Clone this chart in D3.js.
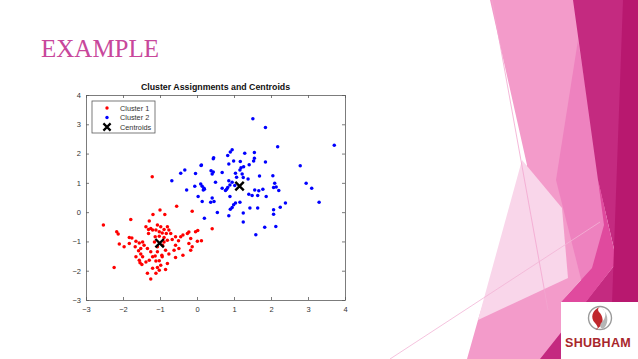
<!DOCTYPE html>
<html>
<head>
<meta charset="utf-8">
<script src="https://cdn.jsdelivr.net/npm/d3@7/dist/d3.min.js"></script>
<style>
  html, body { margin: 0; padding: 0; background: #fff; }
  svg { display: block; }
</style>
</head>
<body>
<svg id="slide" width="638" height="359"></svg>
<script>
// values
const cluster1Points = [
  [-1.21, 1.21], [-0.55, 0.20], [-2.53, -0.44], [-1.79, -0.25], [-1.19, -0.08], [-1.00, 0.07],
  [-0.87, -0.08], [-1.29, -0.30], [-0.13, 0.03], [0.41, -0.57], [-2.17, -0.67], [-2.13, -0.75],
  [-1.83, -0.87], [-1.76, -0.88], [-2.10, -1.09], [-1.97, -1.18], [-1.83, -1.07], [-1.65, -0.99],
  [-1.56, -1.05], [-1.47, -1.02], [-1.67, -1.18], [-1.58, -1.32], [-1.52, -1.24], [-1.38, -0.50],
  [-1.31, -0.59], [-1.25, -0.56], [-1.31, -0.73], [-1.20, -0.61], [-1.07, -0.44], [-0.98, -0.50],
  [-0.89, -0.59], [-0.80, -0.50], [-0.76, -0.61], [-0.83, -0.73], [-0.71, -0.73], [-0.94, -0.71],
  [-1.02, -0.67], [-1.11, -0.61], [-1.13, -0.84], [-1.02, -0.82], [-0.89, -0.87], [-0.80, -0.96],
  [-0.67, -0.93], [-0.58, -0.84], [-0.50, -0.98], [-0.44, -0.84], [-0.38, -0.78], [-0.26, -0.73],
  [-0.17, -0.90], [-0.04, -0.67], [0.01, -0.99], [0.12, -0.98], [-0.22, -1.07], [-0.13, -1.18],
  [-0.17, -1.30], [-0.58, -1.13], [-0.62, -1.30], [-0.49, -1.24], [-0.38, -1.47], [-0.58, -1.55],
  [-0.85, -1.30], [-0.76, -1.43], [-0.95, -1.47], [-1.07, -1.35], [-1.13, -1.50], [-1.25, -1.35],
  [-1.34, -1.24], [-1.43, -1.13], [-1.65, -1.52], [-1.56, -1.64], [-1.47, -1.52], [-1.52, -1.43],
  [-1.38, -1.70], [-1.29, -1.64], [-1.11, -1.67], [-1.02, -1.66], [-1.20, -1.52], [-1.54, -1.73],
  [-1.49, -1.79], [-2.24, -1.89], [-0.98, -1.81], [-0.80, -1.75], [-0.85, -1.96], [-1.02, -1.98],
  [-1.11, -2.09], [-1.34, -2.09], [-1.25, -2.28], [-1.20, -1.92], [-1.07, -1.89], [-0.94, -1.52],
  [-1.15, -1.02], [-0.93, -1.13], [-0.89, -1.02], [-1.07, -1.18], [-0.22, -0.68], [0.02, -0.63]
];

const cluster2Points = [
  [1.51, 3.19], [1.85, 2.89], [3.71, 2.28], [2.18, 2.23], [0.90, 2.05], [0.95, 2.13],
  [1.29, 2.01], [1.55, 2.04], [1.55, 1.84], [1.53, 1.75], [0.44, 1.82], [0.83, 1.93],
  [0.99, 1.75], [1.17, 1.73], [1.41, 1.62], [1.85, 1.71], [0.86, 1.64], [1.19, 1.52],
  [1.26, 1.55], [1.16, 1.44], [0.11, 1.59], [-0.33, 1.44], [-0.44, 1.33], [-0.04, 1.32],
  [0.38, 1.41], [0.44, 1.37], [0.41, 1.30], [0.68, 1.35], [1.04, 1.33], [1.22, 1.30],
  [1.25, 1.18], [1.07, 1.19], [1.38, 1.13], [1.69, 1.23], [2.79, 1.58], [-0.68, 1.07],
  [-0.06, 0.88], [-0.28, 0.76], [0.10, 0.96], [0.14, 0.88], [0.19, 0.82], [0.17, 0.76],
  [0.20, 0.78], [0.50, 1.02], [0.68, 0.82], [0.80, 0.78], [0.83, 0.84], [0.77, 0.74],
  [0.86, 1.07], [0.95, 1.02], [0.89, 0.93], [1.02, 0.91], [1.56, 0.76], [1.67, 0.73],
  [1.78, 0.78], [1.40, 0.61], [1.49, 0.57], [1.64, 0.57], [1.87, 0.53], [2.05, 1.24],
  [2.10, 0.99], [2.14, 0.86], [2.07, 0.84], [2.21, 0.74], [2.95, 0.99], [3.10, 0.82],
  [3.30, 0.34], [0.03, 0.53], [0.41, 0.48], [0.46, 0.36], [0.37, 0.34], [0.14, 0.36],
  [0.89, 0.53], [0.99, 0.25], [0.95, 0.16], [0.90, 0.10], [1.04, 0.31], [1.16, 0.34],
  [1.43, 0.14], [1.64, 0.14], [1.25, -0.03], [0.55, -0.01], [0.86, -0.12], [0.20, -0.21],
  [2.07, 0.08], [2.07, -0.07], [2.25, 0.17], [2.39, 0.31], [1.25, -0.34], [1.83, -0.52],
  [2.13, -0.49], [1.59, -0.77], [0.45, 1.86], [0.12, 1.61]
];

const centroidPoints = [[-1.01, -1.06], [1.15, 0.89]];
const xTicks = [-3, -2, -1, 0, 1, 2, 3, 4];
const yTicks = [-3, -2, -1, 0, 1, 2, 3, 4];
const legendLabels = ["Cluster 1", "Cluster 2", "Centroids"];
const chartTitle = "Cluster Assignments and Centroids";
const slideTitle = "EXAMPLE";

const svg = d3.select("#slide");
const FONT = "'Liberation Sans', Arial, sans-serif";
const AXIS_COLOR = "#5a5a5a";

function drawBackdrop() {
  const g = svg.append("g");
  const shapes = [
    { fill: "#f39bca", pts: [[490, 0], [575, 0], [608, 250], [561, 302], [561, 359], [467, 359], [478, 320], [527, 165]] },
    { fill: "#ee82bf", pts: [[578, 40], [601, 185], [612, 255], [585, 295], [556, 180]] },
    { fill: "#f9d6ea", pts: [[522, 160], [562, 208], [568, 278], [478, 320]] },
    { fill: "#c42a80", pts: [[573, 0], [638, 0], [638, 359], [540, 359], [617, 262], [598, 180]] },
    { fill: "#e04a9e", pts: [[598, 180], [617, 262], [586, 302], [561, 302], [592, 268], [604, 225]] },
    { fill: "#b8186f", pts: [[623, 0], [638, 0], [638, 359], [610, 359]] }
  ];
  g.selectAll("polygon")
    .data(shapes)
    .join("polygon")
    .attr("points", (d) => d.pts.join(" "))
    .attr("fill", (d) => d.fill);

  g.append("line")
    .attr("x1", 492).attr("y1", 0).attr("x2", 548).attr("y2", 310)
    .attr("stroke", "#f2a6cf").attr("stroke-width", 0.8);
  g.append("line")
    .attr("x1", 390).attr("y1", 359).attr("x2", 600).attr("y2", 222)
    .attr("stroke", "#f2b4d6").attr("stroke-width", 0.8);

  // logo tile
  g.append("rect")
    .attr("x", 561).attr("y", 302).attr("width", 77).attr("height", 57)
    .attr("fill", "#fff");
  g.append("circle")
    .attr("cx", 600).attr("cy", 318).attr("r", 11.5)
    .attr("fill", "none").attr("stroke", "#9a9a9a").attr("stroke-width", 1.4);
  g.append("path")
    .attr("d", "M600,307 C592,310 590,318 595,323 C599,327 598,331 596,329 C604,326 604,318 600,313 C597,310 598,308 600,307 Z")
    .attr("fill", "#c0282d");
  g.append("path")
    .attr("d", "M602,308 C607,312 606,318 602,322 C599,325 600,328 603,329 C608,325 610,316 602,308 Z")
    .attr("fill", "#b5b5b5");
  g.append("text")
    .attr("x", 598).attr("y", 347)
    .attr("text-anchor", "middle")
    .attr("font-family", FONT)
    .attr("font-weight", "bold")
    .attr("font-size", 12.5)
    .attr("letter-spacing", 0.3)
    .attr("fill", "#a8262b")
    .text("SHUBHAM");
}

function drawSlideTitle() {
  svg.append("text")
    .attr("x", 41).attr("y", 57)
    .attr("font-family", "'Liberation Serif', 'Times New Roman', serif")
    .attr("font-size", 25)
    .attr("fill", "#c8479b")
    .text(slideTitle);
}

function drawChart() {
  const box = { left: 86, right: 345, top: 95, bottom: 300 };
  const x = d3.scaleLinear().domain([-3, 4]).range([box.left, box.right]);
  const y = d3.scaleLinear().domain([-3, 4]).range([box.bottom, box.top]);
  const fmt = d3.format("d");

  const chart = svg.append("g");

  chart.append("rect")
    .attr("x", box.left).attr("y", box.top)
    .attr("width", box.right - box.left).attr("height", box.bottom - box.top)
    .attr("fill", "#fff");

  const styleAxis = (sel) => {
    sel.select(".domain").attr("stroke", AXIS_COLOR).attr("stroke-width", 0.8);
    sel.selectAll(".tick line").attr("stroke", AXIS_COLOR).attr("stroke-width", 0.8);
    sel.selectAll(".tick text")
      .attr("font-family", FONT)
      .attr("font-size", 7.5)
      .attr("fill", "#333");
  };

  chart.append("g")
    .attr("transform", `translate(0,${box.bottom})`)
    .call(d3.axisBottom(x).tickValues(xTicks).tickFormat(fmt).tickSize(-3).tickSizeOuter(0).tickPadding(6.5))
    .call(styleAxis);
  chart.append("g")
    .attr("transform", `translate(0,${box.top})`)
    .call(d3.axisTop(x).tickValues(xTicks).tickSize(-3).tickSizeOuter(0).tickFormat(""))
    .call(styleAxis);
  chart.append("g")
    .attr("transform", `translate(${box.left},0)`)
    .call(d3.axisLeft(y).tickValues(yTicks).tickFormat(fmt).tickSize(-3).tickSizeOuter(0).tickPadding(5))
    .call(styleAxis);
  chart.append("g")
    .attr("transform", `translate(${box.right},0)`)
    .call(d3.axisRight(y).tickValues(yTicks).tickSize(-3).tickSizeOuter(0).tickFormat(""))
    .call(styleAxis);

  chart.append("text")
    .attr("x", (box.left + box.right) / 2).attr("y", 90)
    .attr("text-anchor", "middle")
    .attr("font-family", FONT)
    .attr("font-weight", "bold")
    .attr("font-size", 8.8)
    .attr("fill", "#111")
    .text(chartTitle);

  chart.append("g")
    .selectAll("circle")
    .data(cluster1Points)
    .join("circle")
    .attr("cx", (d) => x(d[0]))
    .attr("cy", (d) => y(d[1]))
    .attr("r", 1.75)
    .attr("fill", "#ff0000");

  chart.append("g")
    .selectAll("circle")
    .data(cluster2Points)
    .join("circle")
    .attr("cx", (d) => x(d[0]))
    .attr("cy", (d) => y(d[1]))
    .attr("r", 1.75)
    .attr("fill", "#0000ff");

  const crossPath = (cx, cy, s) =>
    `M${cx - s},${cy - s}L${cx + s},${cy + s}M${cx - s},${cy + s}L${cx + s},${cy - s}`;

  chart.append("g")
    .selectAll("path")
    .data(centroidPoints)
    .join("path")
    .attr("d", (d) => crossPath(x(d[0]), y(d[1]), 4.2))
    .attr("stroke", "#000")
    .attr("stroke-width", 2.4)
    .attr("fill", "none");

  // legend
  const legend = chart.append("g").attr("transform", "translate(92,101)");
  legend.append("rect")
    .attr("width", 63).attr("height", 32)
    .attr("fill", "#fff").attr("stroke", AXIS_COLOR).attr("stroke-width", 0.8);

  const legendColors = ["#ff0000", "#0000ff", "#000"];
  const rows = legend.selectAll("g.row")
    .data(legendLabels)
    .join("g")
    .attr("class", "row")
    .attr("transform", (d, i) => `translate(0,${7 + i * 9.5})`);

  rows.each(function (d, i) {
    const row = d3.select(this);
    if (i < 2) {
      row.append("circle").attr("cx", 15).attr("cy", 0).attr("r", 1.7).attr("fill", legendColors[i]);
    } else {
      row.append("path").attr("d", crossPath(15, 0, 3.6))
        .attr("stroke", "#000").attr("stroke-width", 2.2).attr("fill", "none");
    }
    row.append("text")
      .attr("x", 28).attr("y", 0).attr("dy", "0.35em")
      .attr("font-family", FONT)
      .attr("font-size", 7.3)
      .attr("fill", "#333")
      .text(d);
  });
}

drawBackdrop();
drawSlideTitle();
drawChart();
</script>
</body>
</html>
